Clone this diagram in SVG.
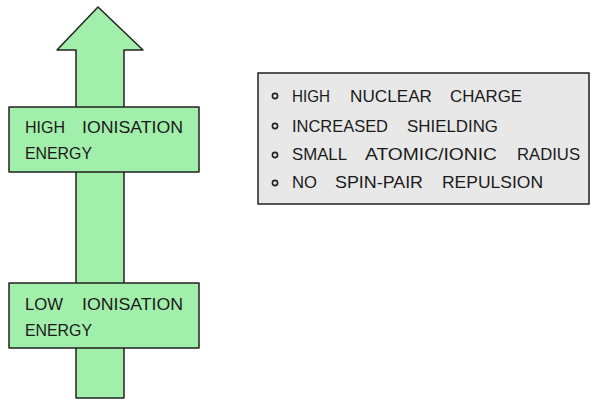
<svg xmlns="http://www.w3.org/2000/svg" width="595" height="405" viewBox="0 0 595 405">
<style>
.g{fill:#a2efab;stroke:#222;stroke-width:1.5;stroke-linejoin:round}
.t{font-family:"Liberation Sans",Arial,sans-serif;font-size:16.5px;fill:#1a1a1a}
.b{fill:none;stroke:#222;stroke-width:1.6}
</style>
<rect width="595" height="405" fill="#fff"/>
<g id="arrow">
<polygon class="g" points="98,7 143,50 124,50 124,398 76,398 76,50 57,50"/>
</g>
<g id="high">
<rect class="g" x="9" y="107" width="190" height="65"/>
<text class="t" y="133"><tspan x="25" textLength="40" lengthAdjust="spacingAndGlyphs">HIGH</tspan><tspan x="82" textLength="101" lengthAdjust="spacingAndGlyphs">IONISATION</tspan></text>
<text class="t" y="159"><tspan x="25" textLength="67" lengthAdjust="spacingAndGlyphs">ENERGY</tspan></text>
</g>
<g id="low">
<rect class="g" x="9" y="283" width="190" height="65"/>
<text class="t" y="310"><tspan x="25" textLength="38" lengthAdjust="spacingAndGlyphs">LOW</tspan><tspan x="82" textLength="101" lengthAdjust="spacingAndGlyphs">IONISATION</tspan></text>
<text class="t" y="336"><tspan x="25" textLength="67" lengthAdjust="spacingAndGlyphs">ENERGY</tspan></text>
</g>
<g id="factors">
<rect x="258" y="73" width="331" height="131" fill="#e8e8e8" stroke="#222" stroke-width="1.5"/>
<circle class="b" cx="275" cy="96" r="2.6"/>
<circle class="b" cx="275" cy="126" r="2.6"/>
<circle class="b" cx="275" cy="155" r="2.6"/>
<circle class="b" cx="275" cy="183" r="2.6"/>
<text class="t" y="102"><tspan x="292" textLength="38" lengthAdjust="spacingAndGlyphs">HIGH</tspan><tspan x="350" textLength="82" lengthAdjust="spacingAndGlyphs">NUCLEAR</tspan><tspan x="450" textLength="72" lengthAdjust="spacingAndGlyphs">CHARGE</tspan></text>
<text class="t" y="132"><tspan x="292" textLength="96" lengthAdjust="spacingAndGlyphs">INCREASED</tspan><tspan x="407" textLength="91" lengthAdjust="spacingAndGlyphs">SHIELDING</tspan></text>
<text class="t" y="160"><tspan x="292" textLength="55" lengthAdjust="spacingAndGlyphs">SMALL</tspan><tspan x="365" textLength="132" lengthAdjust="spacingAndGlyphs">ATOMIC/IONIC</tspan><tspan x="517" textLength="63" lengthAdjust="spacingAndGlyphs">RADIUS</tspan></text>
<text class="t" y="188"><tspan x="292" textLength="25" lengthAdjust="spacingAndGlyphs">NO</tspan><tspan x="335" textLength="88" lengthAdjust="spacingAndGlyphs">SPIN-PAIR</tspan><tspan x="442" textLength="101" lengthAdjust="spacingAndGlyphs">REPULSION</tspan></text>
</g>
</svg>
